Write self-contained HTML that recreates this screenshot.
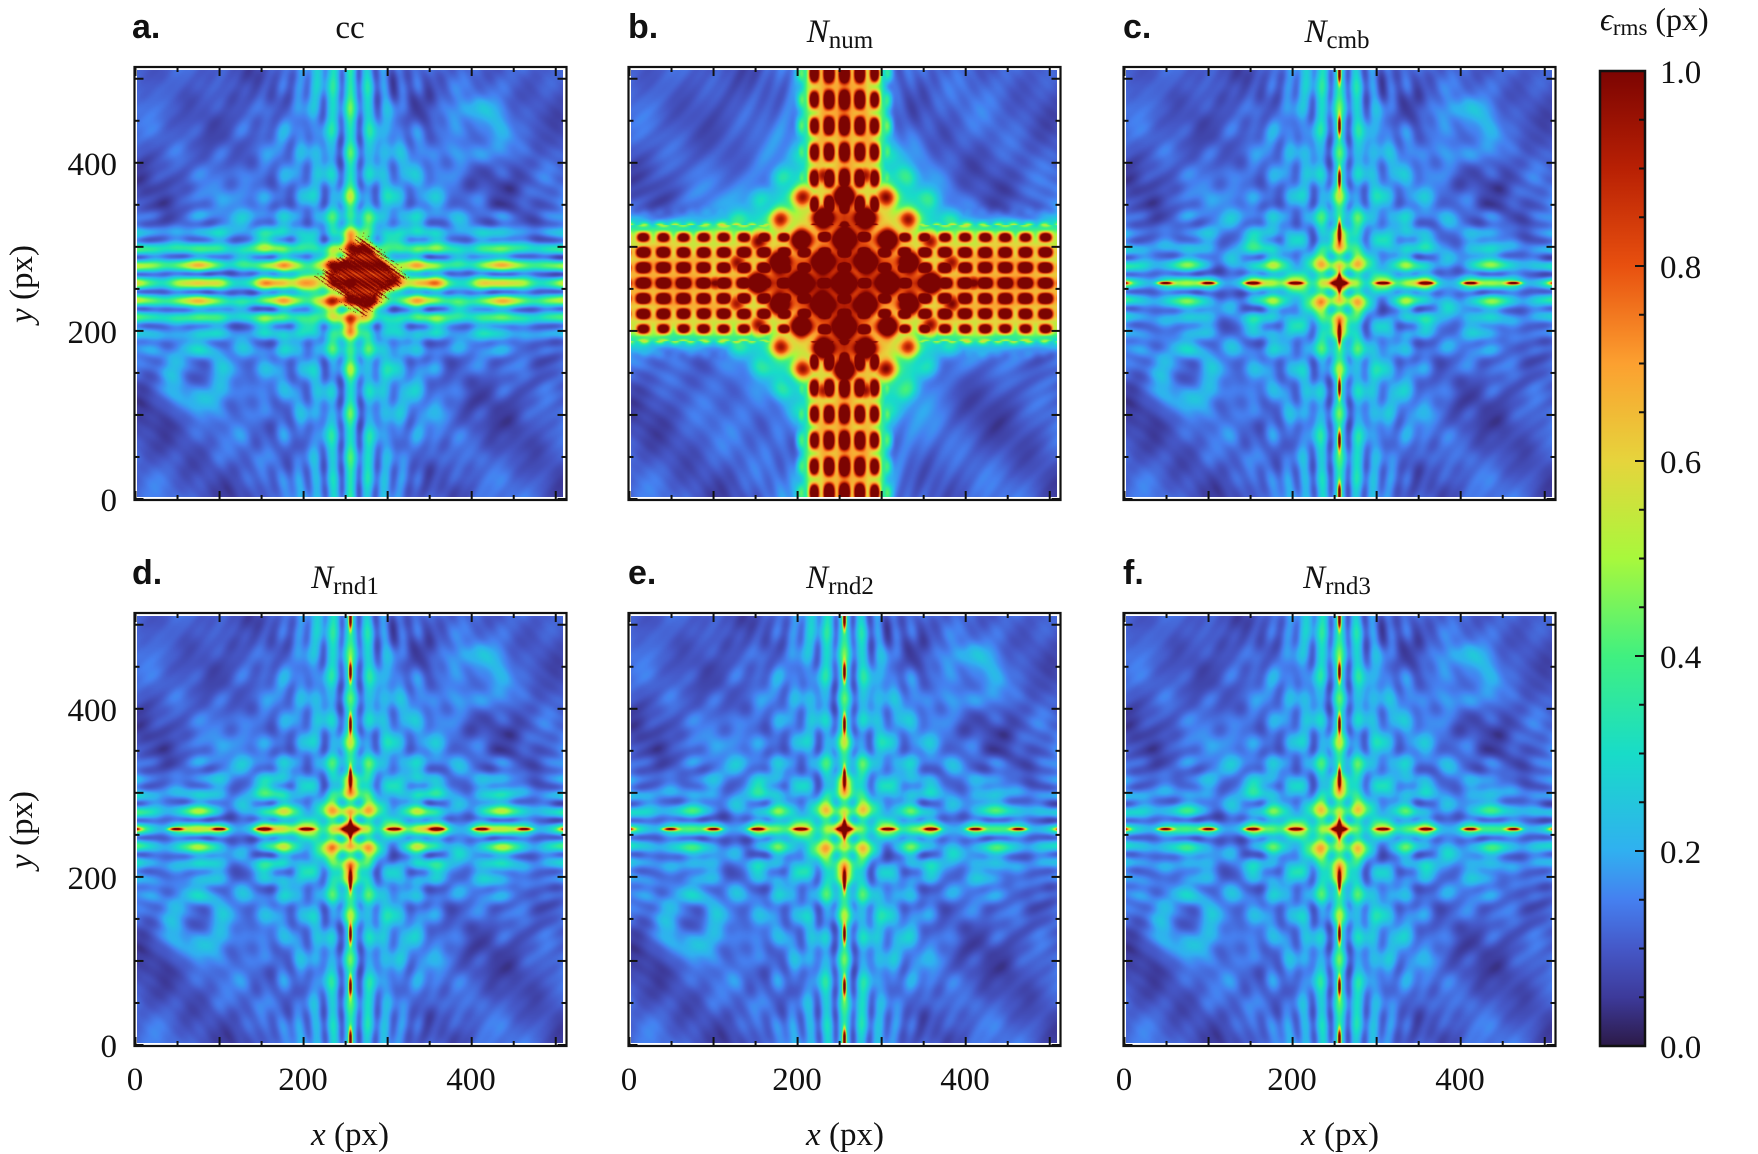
<!DOCTYPE html>
<html><head><meta charset="utf-8"><style>
html,body{margin:0;padding:0;background:#fff;}
#wrap{position:relative;width:1758px;height:1154px;overflow:hidden;font-family:"Liberation Serif",serif;}
canvas{position:absolute;}
svg{position:absolute;left:0;top:0;}
</style></head><body><div id="wrap">
<canvas id="c0" width="512" height="512" style="left:137px;top:70px;width:426px;height:427px"></canvas>
<canvas id="c1" width="512" height="512" style="left:631px;top:70px;width:426px;height:427px"></canvas>
<canvas id="c2" width="512" height="512" style="left:1126px;top:70px;width:426px;height:427px"></canvas>
<canvas id="c3" width="512" height="512" style="left:137px;top:616px;width:426px;height:427px"></canvas>
<canvas id="c4" width="512" height="512" style="left:631px;top:616px;width:426px;height:427px"></canvas>
<canvas id="c5" width="512" height="512" style="left:1126px;top:616px;width:426px;height:427px"></canvas>
<svg width="1758" height="1154" viewBox="0 0 1758 1154">
<defs>
<linearGradient id="cb" x1="0" y1="1" x2="0" y2="0">
<stop offset="0" stop-color="#2c1a48"/><stop offset="0.05" stop-color="#3d3a9a"/><stop offset="0.1" stop-color="#4558c8"/>
<stop offset="0.15" stop-color="#4580f0"/><stop offset="0.2" stop-color="#30b0f0"/><stop offset="0.3" stop-color="#18dcc8"/>
<stop offset="0.4" stop-color="#40f080"/><stop offset="0.5" stop-color="#a8f83c"/><stop offset="0.6" stop-color="#e6d43c"/>
<stop offset="0.7" stop-color="#fca030"/><stop offset="0.8" stop-color="#e8500f"/><stop offset="0.9" stop-color="#b82004"/>
<stop offset="1" stop-color="#7c0402"/></linearGradient>
</defs>
<g id="frames" fill="none" stroke="#111" stroke-width="2.2"></g>
<g id="ticks" stroke="#111" stroke-width="2"></g>
<g font-size="33" fill="#111" text-anchor="end">
<text x="117" y="175">400</text><text x="117" y="343">200</text><text x="117" y="511">0</text>
<text x="117" y="721">400</text><text x="117" y="889">200</text><text x="117" y="1057">0</text>
</g>
<g font-size="33" fill="#111" text-anchor="middle">
<text x="135" y="1090">0</text><text x="303" y="1090">200</text><text x="471" y="1090">400</text>
<text x="629" y="1090">0</text><text x="797" y="1090">200</text><text x="965" y="1090">400</text>
<text x="1124" y="1090">0</text><text x="1292" y="1090">200</text><text x="1460" y="1090">400</text>
</g>
<g font-size="33" fill="#111" text-anchor="middle">
<text x="350" y="1145"><tspan font-style="italic">x</tspan> (px)</text>
<text x="845" y="1145"><tspan font-style="italic">x</tspan> (px)</text>
<text x="1340" y="1145"><tspan font-style="italic">x</tspan> (px)</text>
<text transform="translate(32,284) rotate(-90)"><tspan font-style="italic">y</tspan> (px)</text>
<text transform="translate(32,830) rotate(-90)"><tspan font-style="italic">y</tspan> (px)</text>
</g>
<g font-family="Liberation Sans, sans-serif" font-weight="bold" font-size="34" fill="#111">
<text x="132" y="38">a.</text><text x="628" y="38">b.</text><text x="1123" y="38">c.</text>
<text x="132" y="584">d.</text><text x="628" y="584">e.</text><text x="1123" y="584">f.</text>
</g>
<g font-size="33" fill="#111" text-anchor="middle">
<text x="350" y="38">cc</text>
<text x="840" y="42"><tspan font-style="italic">N</tspan><tspan font-size="25" dy="6">num</tspan></text>
<text x="1337" y="42"><tspan font-style="italic">N</tspan><tspan font-size="25" dy="6">cmb</tspan></text>
<text x="345" y="588"><tspan font-style="italic">N</tspan><tspan font-size="25" dy="6">rnd1</tspan></text>
<text x="840" y="588"><tspan font-style="italic">N</tspan><tspan font-size="25" dy="6">rnd2</tspan></text>
<text x="1337" y="588"><tspan font-style="italic">N</tspan><tspan font-size="25" dy="6">rnd3</tspan></text>
</g>
<rect x="1600" y="71" width="45" height="975" fill="url(#cb)" stroke="#111" stroke-width="2.5"/>
<g id="cbt" stroke="#111" stroke-width="2"></g>
<g font-size="33" fill="#111">
<text x="1660" y="83">1.0</text><text x="1660" y="278">0.8</text><text x="1660" y="473">0.6</text>
<text x="1660" y="668">0.4</text><text x="1660" y="863">0.2</text><text x="1660" y="1058">0.0</text>
<text x="1600" y="30" font-size="32"><tspan font-style="italic">ϵ</tspan><tspan font-size="23" dy="5">rms</tspan><tspan dy="-5"> (px)</tspan></text>
</g>
</svg>
</div>
<script>
var NS="http://www.w3.org/2000/svg";
function el(p,t,a){var e=document.createElementNS(NS,t);for(var k in a)e.setAttribute(k,a[k]);p.appendChild(e);}
var X0=[134.5,628.5,1123.5],Y0=[67,613],W=432,H=433,s=0.8405;
var fr=document.getElementById('frames'),tk=document.getElementById('ticks');
for(var r=0;r<2;r++)for(var c=0;c<3;c++){
 var x0=X0[c],y0=Y0[r];
 el(fr,'rect',{x:x0,y:y0,width:W,height:H});
 for(var u=0;u<=500;u+=50){
  var L=(u%100==0)?9:5;
  var px=x0+1+u*s, py=y0+H-1-u*s;
  el(tk,'line',{x1:px,y1:y0+H,x2:px,y2:y0+H-L});
  el(tk,'line',{x1:px,y1:y0,x2:px,y2:y0+L});
  el(tk,'line',{x1:x0,y1:py,x2:x0+L,y2:py});
  el(tk,'line',{x1:x0+W,y1:py,x2:x0+W-L,y2:py});
 }}
var cbt=document.getElementById('cbt');
for(var i=0;i<=20;i++){var y=1046-i*48.75,L=(i%4==0)?10:6;el(cbt,'line',{x1:1645,y1:y,x2:1645-L,y2:y});}
var stops=[[0,[44,26,72]],[0.05,[61,58,154]],[0.1,[69,88,200]],[0.15,[69,128,240]],[0.2,[48,176,240]],[0.3,[24,220,200]],[0.4,[64,240,128]],[0.5,[168,248,60]],[0.6,[230,212,60]],[0.7,[252,160,48]],[0.8,[232,80,15]],[0.9,[184,32,4]],[1,[124,4,2]]];
function cmap(v){if(v<0)v=0;if(v>1)v=1;for(var i=1;i<stops.length;i++){if(v<=stops[i][0]){var a=stops[i-1],b=stops[i],t=(v-a[0])/(b[0]-a[0]);return[a[1][0]+(b[1][0]-a[1][0])*t,a[1][1]+(b[1][1]-a[1][1])*t,a[1][2]+(b[1][2]-a[1][2])*t];}}return stops[12][1];}
function ring(u,v,cx,cy,R,w){var d=Math.sqrt((u-cx)*(u-cx)+(v-cy)*(v-cy));return Math.exp(-((d-R)/w)*((d-R)/w));}
function field(p,x,y){
 var u=x-256,v=y-256,au=Math.abs(u),av=Math.abs(v);
 var base=0.095+0.03*Math.sin(x*0.03+1)*Math.sin(y*0.025+2)+0.02*Math.sin((x+y)*0.045)+0.015*Math.sin(x*0.11-y*0.07);
 var k=0.06;
 var Lc=Math.cos(k*(u+v))*Math.cos(k*(u-v));var L2=Lc*Lc;
 var Hf=0.5+0.5*Math.cos(u*v*0.0013);
 var mn=Math.min(au,av);
 var val=base;
 if(p==1){
  var B=Math.max(Math.exp(-Math.pow(v/70,6)),Math.exp(-Math.pow(u/48,6)));
  var D=Math.exp(-Math.pow((au+av)/170,4));
  var cell=Math.pow(Math.cos(0.13*u)*Math.cos(0.17*v),2);
  var cellv=Math.pow(Math.cos(0.17*u)*Math.cos(0.1*v),2);
  var t=av<70?cell:cellv;
  val=base+0.08*Math.exp(-mn/90)*Hf+Math.max(B*(0.45+1.2*t),D*(0.6+1.0*L2));
  val+=0.12*Math.exp(-mn/50);
  return val;
 }
 val+=0.16*Math.exp(-mn/75)*Hf*Math.exp(-Math.max(au,av)/500);
 val+=0.5*Math.exp(-(au+av)/120)*L2;
 var hb=Math.exp(-Math.pow(v/55,2));
 var vs=0.5+0.5*Math.cos(v*0.3);
 var str=[0.3,0,0.28,0.34,0.2,0.18][p];
 val+=str*hb*vs*(0.5+0.5*Math.cos(u*0.07));
 val+=0.12*Math.exp(-Math.pow(u/60,2))*(0.5+0.5*Math.cos(u*0.3));
 val+=0.1*ring(u,v,-185,-110,32,14)+0.08*ring(u,v,150,180,30,14);
 if(p==0){
  var dm=Math.abs(u-15)+Math.abs(v-8)*1.1;
  var n=Math.sin(x*1.7)*Math.sin(y*2.3)+Math.sin(x*0.9+y*1.3)+0.5*Math.sin(x*0.3+y*0.5);
  if(dm<45+8*n){val=Math.max(val,0.9+0.08*n);}
  else val+=0.35*Math.exp(-(dm-45)/10);
  val+=0.25*hb*vs*Math.exp(-Math.pow((av-40)/40,2));
 } else {
  if(au<4){val+=1.0*Math.exp(-u*u/3)*Math.pow(0.5+0.5*Math.cos(v*0.1),3);}
  if(av<4){val+=0.9*Math.exp(-v*v/3)*Math.pow(0.5+0.5*Math.cos(u*0.12),4);}
 }
 return val;
}
for(var p=0;p<6;p++){
 var cv=document.getElementById('c'+p),ctx=cv.getContext('2d'),img=ctx.createImageData(512,512),d=img.data;
 for(var j=0;j<512;j++)for(var i=0;i<512;i++){
  var c=cmap(field(p,i,511-j)),o=(j*512+i)*4;d[o]=c[0];d[o+1]=c[1];d[o+2]=c[2];d[o+3]=255;}
 ctx.putImageData(img,0,0);
}
</script>
</body></html>
